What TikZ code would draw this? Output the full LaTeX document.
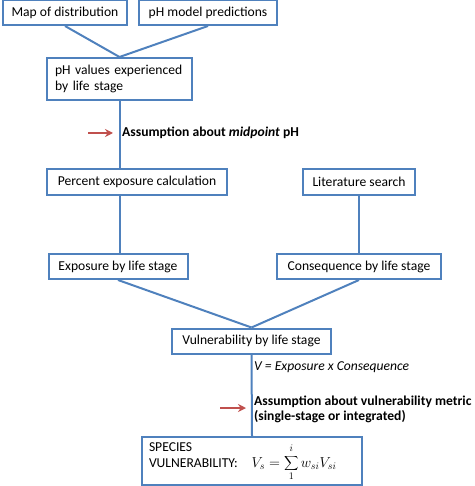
\documentclass[tikz,border=0pt]{standalone}
\usepackage{fontspec}
\setmainfont{Carlito}
\usetikzlibrary{arrows.meta}
\definecolor{boxblue}{RGB}{79,129,189}
\definecolor{notered}{RGB}{192,80,77}

\begin{document}
\begin{tikzpicture}[x=1pt,y=1pt]
\tikzstyle{every node}+=[inner sep=0pt, font=\fontsize{13.6}{15.5}\selectfont]
\tikzstyle{box}=[draw=boxblue, line width=2pt, fill=white, minimum height=25pt]
\tikzstyle{link}=[draw=boxblue, line width=2pt]
\tikzstyle{note}=[anchor=west, align=left, font=\fontsize{13.6}{15.5}\selectfont\bfseries]
\tikzstyle{redarrow}=[draw=notered, line width=1.8pt, -{Stealth[length=8pt,width=8pt]}]
\useasboundingbox (0,0) rectangle (474,-486);
\node [box, minimum width=124pt] (map) at (65,-12.5) {Map of distribution};
\node [box, minimum width=138pt] (model) at (208,-12.5) {pH model predictions};
\node [box, minimum width=145pt, minimum height=42pt, text width=129pt, align=left] (phval) at (119.5,-79) {pH values experienced\\by life stage};
\node [box, minimum width=180pt] (percent) at (137,-182) {Percent exposure calculation};
\node [box, minimum width=112pt] (lit) at (359,-182) {Literature search};
\node [box, minimum width=139pt] (expo) at (118,-266.5) {Exposure by life stage};
\node [box, minimum width=164pt] (conseq) at (359,-266.5) {Consequence by life stage};
\node [box, minimum width=159pt] (vuln) at (251.5,-341) {Vulnerability by life stage};
\node [box, minimum width=220pt, minimum height=48pt, text width=206pt, align=left] (species) at (252,-461) {\begin{tabular}[b]{@{}l@{}}SPECIES\\VULNERABILITY:\end{tabular}\hspace{14pt}$V_s = \displaystyle\sum_{1}^{\raisebox{2pt}{$\scriptstyle i$}} w_{si}V_{si}$};
\node [note] (midnote) at (122,-133) {Assumption about \textit{midpoint} pH};
\node [anchor=west, font=\fontsize{13.6}{15.5}\selectfont\itshape] (vform) at (254,-367) {V = Exposure x Consequence};
\node [note] (metricnote) at (254,-409.5) {Assumption about vulnerability metric\\(single-stage or integrated)};
\coordinate (arrowa) at (88,-133);
\coordinate (arrowb) at (113,-133);
\coordinate (arrowc) at (220,-408);
\coordinate (arrowd) at (246,-408);
\draw [link] (map.south) -- (phval.north);
\draw [link] (model.south) -- (phval.north);
\draw [link] (phval.south) -- (phval.south |- percent.north);
\draw [link] (phval.south |- percent.south) -- (phval.south |- expo.north);
\draw [link] (lit.south) -- (conseq.north);
\draw [link] (expo.south) -- (vuln.north);
\draw [link] (conseq.south) -- (vuln.north);
\draw [link] (vuln.south) -- (species.north);
\draw [redarrow] (arrowa) -- (arrowb);
\draw [redarrow] (arrowc) -- (arrowd);
\end{tikzpicture}
\end{document}
